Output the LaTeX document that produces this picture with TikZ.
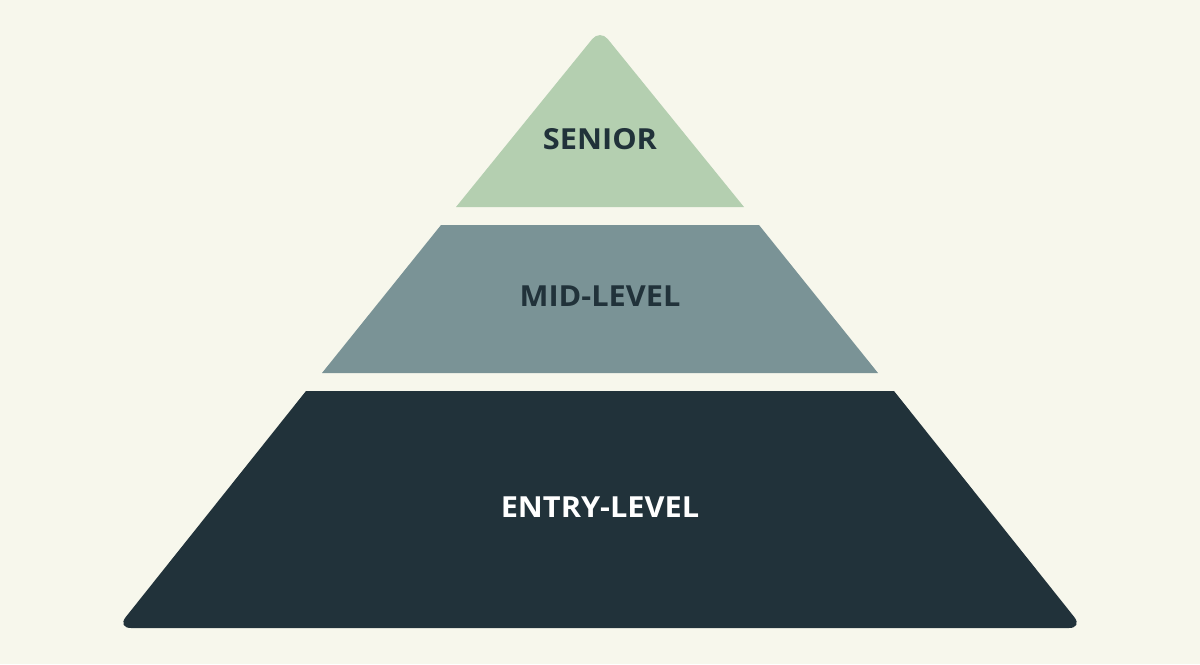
\documentclass[tikz,border=0pt]{standalone}
\usepackage{fontspec}
\setmainfont{Open Sans}
\newfontfamily\tierfont[FakeStretch=1.06]{Open Sans}
\usetikzlibrary{positioning}
\definecolor{bgcream}{HTML}{F7F7EC}
\definecolor{seniorgreen}{HTML}{B4CFB0}
\definecolor{midslate}{HTML}{7A9396}
\definecolor{entrynavy}{HTML}{21323A}
\tikzset{
    tier/.style={font=\tierfont\fontsize{16.5}{18}\selectfont\bfseries},
    darktext/.style={tier,text=entrynavy},
    lighttext/.style={tier,text=white}
}

\begin{document}
\begin{tikzpicture}[x=0.02cm,y=-0.02cm]

% Background
\fill[bgcream] (0,0) rectangle (1200,664);
\useasboundingbox (0,0) rectangle (1200,664);

% Tiers
\fill[seniorgreen] (456,207) [rounded corners=7pt] -- (600,29.5) [sharp corners] -- (744,207) -- cycle;
\fill[midslate] (441,225) -- (759,225) -- (878,373) -- (322,373) -- cycle;
\fill[entrynavy] (306,391) -- (894,391) [rounded corners=8pt] -- (1083,628) -- (117,628) [sharp corners] -- cycle;

% Labels
\node[darktext] (senior) at (600,139) {SENIOR};
\node[darktext] (mid) at (600,296) {MID-LEVEL};
\node[lighttext] (entry) at (600,507) {ENTRY-LEVEL};

\end{tikzpicture}
\end{document}
